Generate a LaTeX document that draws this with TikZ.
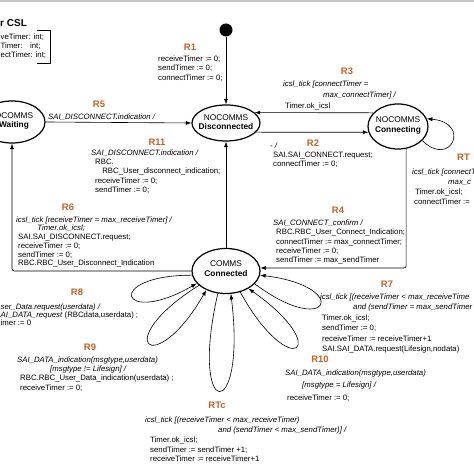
\documentclass[tikz,border=0pt]{standalone}
\usepackage{fontspec}
\setmainfont{Liberation Sans}
\usetikzlibrary{arrows.meta,shapes.geometric,positioning}
\definecolor{rulecol}{RGB}{193,98,42}
\tikzset{
  state/.style={ellipse, draw, line width=1.1pt, inner sep=0pt},
  stxt/.style={font=\fontsize{7.5}{8.6}\selectfont, align=center, inner sep=0pt},
  arr/.style={-{Latex[length=5pt,width=3.6pt]}, line width=0.55pt},
  rule/.style={font=\fontsize{8.5}{10}\selectfont\bfseries, text=rulecol, inner sep=0pt},
  act/.style={font=\fontsize{7}{#1}\selectfont, align=left, inner sep=0pt, anchor=west},
  act/.default=8.4
}
\begin{document}
\begin{tikzpicture}[x=0.9pt, y=0.9pt]
  \useasboundingbox (0,0) rectangle (474,474);
  \clip (0,0) rectangle (474,474);
  \fill[gray!45] (0,471.5) rectangle (474,474);
  % variables box
  \node[anchor=west, inner sep=0pt, font=\fontsize{9}{10}\selectfont\bfseries] (vars) at (0,451) {r CSL};
  \node[act=8.1] (varlist) at (0.5,428) {veTimer: int;\\Timer:\hspace*{5pt} int;\\ectTimer: int;};
  \draw[line width=0.5pt] (37,444) -- (50,444) -- (50,411) -- (37,411);
  % states
  \node[circle, fill, inner sep=0pt, minimum size=11.7pt] (init) at (226,444) {};
  \node[state, minimum width=61.2pt, minimum height=32.4pt] (disc) at (226,351) {};
  \node[stxt] (disc-t) at (226,352) {NOCOMMS\\\textbf{Disconnected}};
  \node[state, minimum width=54pt, minimum height=40.5pt] (cing) at (398,347.5) {};
  \node[stxt] (cing-t) at (398,348.5) {NOCOMMS\\\textbf{Connecting}};
  \node[state, minimum width=61.2pt, minimum height=40.5pt] (conn) at (226,203) {};
  \node[stxt] (conn-t) at (226,205.5) {COMMS\\\textbf{Connected}};
  \node[state, minimum width=59.4pt, minimum height=37.8pt] (wait) at (12,352) {};
  \node[stxt] (wait-t) at (14,353) {OCOMMS\\\textbf{Waiting}};
  % transitions
  \draw[arr] (init) -- (disc.north);
  \draw[arr] (wait.east) -- (disc.west);
  \draw[arr] (cing.151) -- (disc.20);
  \draw[arr] (disc.343) -- (cing.191);
  \draw[arr] (conn.north) -- (disc.south);
  \draw[arr, rounded corners=2pt] (cing.290) |- (conn.5);
  \draw[arr, rounded corners=2pt] (conn.west) -| (wait.south);
  \draw[arr] (cing.-30) .. controls +(-45:40) and +(-5:45) .. (cing.15);
  % self loops of Connected
  \foreach \a/\b/\d/\e/\l in {187/203/195/15/89, 208/224/226/14/106, 250/282/267/10/132,
                              304/322/312/13/105, 336/353/338/15/93}
    \draw[arr] (conn.\a) .. controls +({\d-\e}:\l) and +({\d+\e}:\l) .. (conn.\b);
  % rule labels
  \node[rule] (r1) at (190,427) {R1};
  \node[act=8.5] (t1) at (158,405.5) {receiveTimer := 0;\\sendTimer := 0;\\connectTimer := 0;};
  \node[rule] (r5) at (99,370) {R5};
  \node[act] (t5) at (48,357) {\textit{SAI\_DISCONNECT.indication /}};
  \node[rule] (r11) at (157,332) {R11};
  \node[act=8.3] (t11) at (91,302.5) {\textit{SAI\_DISCONNECT.indication /}\\
    \hspace*{3.6pt}RBC.\\
    \hspace*{10pt}RBC\_User\_disconnect\_indication;\\
    \hspace*{3.6pt}receiveTimer := 0;\\
    \hspace*{3.6pt}sendTimer := 0;};
  \node[rule] (r3) at (347,403) {R3};
  \node[act=9.5] (t3) at (283,378.5) {\textit{icsl\_tick [connectTimer =}\\
    \hspace*{36pt}\textit{max\_connectTimer] /}\\
    \hspace*{1.8pt}Timer.ok\_icsl};
  \node[rule] (r2) at (313,331) {R2};
  \node[act=8.1] (t2) at (270,319) {\textit{- /}\\
    \hspace*{2.7pt}SAI.SAI\_CONNECT.request;\\
    \hspace*{2.7pt}connectTimer := 0;};
  \node[rule, anchor=west] (rt) at (457,317) {RT};
  \node[act=9] (tt) at (412,287.5) {\textit{icsl\_tick [connectT}\\
    \hspace*{32.4pt}\textit{max\_c}\\
    \hspace*{2.7pt}Timer.ok\_icsl;\\
    \hspace*{1.8pt}connectTimer :=};
  \node[rule] (r4) at (338,264) {R4};
  \node[act=8.5] (t4) at (273,232) {\textit{SAI\_CONNECT\_confirm /}\\
    \hspace*{2.7pt}RBC.RBC\_User\_Connect\_Indication;\\
    \hspace*{2.7pt}connectTimer := max\_connectTimer;\\
    \hspace*{2.7pt}receiveTimer := 0;\\
    \hspace*{2.7pt}sendTimer := max\_sendTimer};
  \node[rule] (r6) at (68,267) {R6};
  \node[act=7.9] (t6) at (16,232) {\textit{icsl\_tick [receiveTimer = max\_receiveTimer] /}\\
    \hspace*{19pt}\textit{Timer.ok\_icsl;}\\
    \hspace*{1.8pt}SAI.SAI\_DISCONNECT.request;\\
    \hspace*{1.8pt}receiveTimer := 0;\\
    \hspace*{1.8pt}sendTimer := 0;\\
    \hspace*{1.8pt}RBC.RBC\_User\_Disconnect\_Indication};
  \node[rule] (r8) at (77,182) {R8};
  \node[act=7.2] (t8) at (0.5,159) {\textit{ser\_Data.request(userdata) /}\\
    \textit{AI\_DATA\_request} (RBCdata,userdata) ;\\
    imer := 0};
  \node[rule] (r9) at (90,127) {R9};
  \node[act] (t9) at (17,100) {\textit{SAI\_DATA\_indication(msgtype,userdata)}\\
    \hspace*{29.7pt}\textit{[msgtype != Lifesign] /}\\
    \hspace*{2.7pt}RBC.RBC\_User\_Data\_indication(userdata) ;\\
    \hspace*{2.7pt}receiveTimer := 0;};
  \node[rule] (r7) at (387,190) {R7};
  \node[act=9.5] (t7) at (320,150.5) {\textit{icsl\_tick [(receiveTimer < max\_receiveTime}\\
    \hspace*{29.7pt}\textit{and (sendTimer = max\_sendTimer}\\
    \hspace*{1.8pt}Timer.ok\_icsl;\\
    \hspace*{1.8pt}sendTimer := 0;\\
    \hspace*{1.8pt}receiveTimer := receiveTimer+1\\
    \hspace*{1.8pt}SAI.SAI\_DATA.request(Lifesign,nodata)};
  \node[rule] (r10) at (320,115) {R10};
  \node[act=11] (t10) at (285,88.5) {\textit{SAI\_DATA\_indication(msgtype,userdata)}\\
    \hspace*{15.3pt}\textit{[msgtype = Lifesign] /}\\
    \hspace*{1.8pt}receiveTimer := 0;};
  \node[rule] (rtc) at (217,69) {RTc};
  \node[act=8.8] (ttc) at (145,34.5) {\textit{icsl\_tick [(receiveTimer < max\_receiveTimer)}\\
    \hspace*{65.7pt}\textit{and (sendTimer < max\_sendTimer)] /}\\
    \hspace*{4.5pt}Timer.ok\_icsl;\\
    \hspace*{4.5pt}sendTimer := sendTimer +1;\\
    \hspace*{4.5pt}receiveTimer := receiveTimer+1};
\end{tikzpicture}
\end{document}
